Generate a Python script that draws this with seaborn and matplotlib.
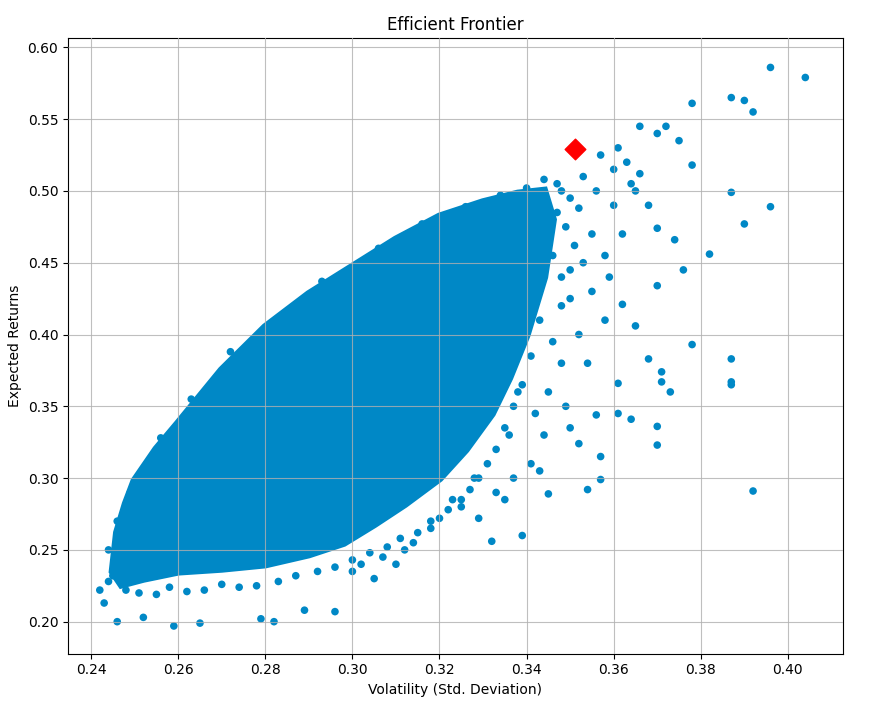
import matplotlib
matplotlib.use('Agg')
import matplotlib.pyplot as plt
import seaborn as sns
import pandas as pd
import numpy as np

# Dense cloud of simulated portfolios, outlined by its edges
cloud_x_upper = [0.245, 0.246, 0.248, 0.250, 0.255, 0.260, 0.270, 0.280, 0.290, 0.300, 0.310, 0.320, 0.330, 0.338, 0.344]
cloud_y_upper = [0.235, 0.262, 0.282, 0.298, 0.320, 0.338, 0.375, 0.405, 0.428, 0.447, 0.466, 0.482, 0.492, 0.498, 0.500]
cloud_x_lower = [0.346, 0.344, 0.340, 0.336, 0.332, 0.326, 0.320, 0.312, 0.305, 0.298, 0.290, 0.280, 0.270, 0.260, 0.252, 0.247]
cloud_y_lower = [0.480, 0.440, 0.400, 0.370, 0.345, 0.320, 0.300, 0.282, 0.268, 0.255, 0.247, 0.240, 0.237, 0.235, 0.230, 0.226]

# Sparse portfolios outside the dense cloud
vol = [0.404, 0.396, 0.390, 0.387, 0.392, 0.378, 0.396, 0.390, 0.387, 0.382, 0.387, 0.387, 0.387, 0.378, 0.392,
       0.376, 0.378, 0.375, 0.372, 0.370, 0.366, 0.374, 0.370, 0.371, 0.371, 0.373, 0.370, 0.370, 0.368, 0.364,
       0.365, 0.362, 0.361, 0.361, 0.357, 0.357, 0.354, 0.356, 0.352, 0.350, 0.345, 0.343, 0.339, 0.332, 0.335,
       0.329, 0.325, 0.320, 0.314, 0.310, 0.305, 0.300, 0.296, 0.289, 0.282, 0.279, 0.265, 0.259, 0.252, 0.246,
       0.243, 0.242, 0.244, 0.370, 0.368, 0.365, 0.360, 0.362, 0.358, 0.355, 0.358, 0.352, 0.348, 0.345, 0.342,
       0.348, 0.350, 0.355, 0.356, 0.360, 0.363, 0.366, 0.353, 0.357, 0.345, 0.342, 0.340, 0.338, 0.336, 0.361,
       0.364, 0.359, 0.354, 0.349, 0.346, 0.344, 0.341, 0.337, 0.333, 0.328, 0.323, 0.318, 0.312, 0.307, 0.302,
       0.348, 0.350, 0.352, 0.347, 0.349, 0.351, 0.353, 0.346, 0.348, 0.350, 0.343, 0.341, 0.339, 0.337, 0.335,
       0.333, 0.331, 0.329, 0.327, 0.325, 0.322, 0.318, 0.315, 0.311, 0.308, 0.304, 0.300, 0.296, 0.292, 0.287,
       0.283, 0.278, 0.274, 0.270, 0.266, 0.262, 0.258, 0.255, 0.251, 0.248, 0.245, 0.244, 0.246, 0.249, 0.256,
       0.263, 0.272, 0.286, 0.293, 0.306, 0.316, 0.326, 0.334, 0.340, 0.344, 0.347]
ret = [0.579, 0.586, 0.563, 0.565, 0.555, 0.561, 0.489, 0.477, 0.499, 0.456, 0.383, 0.367, 0.365, 0.393, 0.291,
       0.445, 0.518, 0.535, 0.545, 0.540, 0.545, 0.466, 0.434, 0.374, 0.367, 0.360, 0.336, 0.323, 0.383, 0.341,
       0.406, 0.421, 0.366, 0.345, 0.299, 0.315, 0.292, 0.344, 0.324, 0.335, 0.289, 0.305, 0.260, 0.256, 0.285,
       0.272, 0.280, 0.272, 0.255, 0.240, 0.230, 0.235, 0.207, 0.208, 0.200, 0.202, 0.199, 0.197, 0.203, 0.200,
       0.213, 0.222, 0.228, 0.474, 0.490, 0.500, 0.490, 0.470, 0.455, 0.430, 0.410, 0.400, 0.380, 0.360, 0.345,
       0.420, 0.445, 0.470, 0.500, 0.515, 0.520, 0.512, 0.510, 0.525, 0.470, 0.440, 0.400, 0.360, 0.330, 0.530,
       0.505, 0.440, 0.380, 0.350, 0.395, 0.330, 0.310, 0.300, 0.290, 0.300, 0.285, 0.265, 0.250, 0.245, 0.240,
       0.500, 0.495, 0.488, 0.485, 0.475, 0.462, 0.450, 0.455, 0.440, 0.425, 0.410, 0.385, 0.365, 0.350, 0.335,
       0.320, 0.310, 0.300, 0.292, 0.285, 0.278, 0.270, 0.262, 0.258, 0.252, 0.248, 0.243, 0.238, 0.235, 0.232,
       0.228, 0.225, 0.224, 0.226, 0.222, 0.221, 0.224, 0.219, 0.220, 0.222, 0.232, 0.250, 0.270, 0.290, 0.328,
       0.355, 0.388, 0.418, 0.437, 0.460, 0.477, 0.489, 0.497, 0.502, 0.508, 0.505]

# Portfolio with the best Sharpe ratio
best_vol = [0.351]
best_ret = [0.529]

point_color = '#0088c6'
df = pd.DataFrame({'Volatility': vol, 'Returns': ret})

fig, ax = plt.subplots(figsize=(8.89, 7.09), dpi=100)
ax.fill(cloud_x_upper + cloud_x_lower, cloud_y_upper + cloud_y_lower,
        color=point_color, linewidth=6, edgecolor=point_color, zorder=2)
sns.scatterplot(data=df, x='Volatility', y='Returns', color=point_color, s=30,
                edgecolor='none', ax=ax, zorder=2)
ax.scatter(best_vol, best_ret, color='red', marker='D', s=110, zorder=3)

ax.set_xlim(0.2347, 0.4126)
ax.set_ylim(0.1777, 0.6063)
ax.set_xticks(np.arange(0.24, 0.401, 0.02))
ax.set_yticks(np.arange(0.20, 0.601, 0.05))
ax.grid(True, color='#b0b0b0', linewidth=0.8, alpha=0.8, zorder=4)
ax.set_axisbelow(False)
ax.set_title('Efficient Frontier')
ax.set_xlabel('Volatility (Std. Deviation)')
ax.set_ylabel('Expected Returns')
plt.subplots_adjust(left=0.0765, right=0.948, top=0.946, bottom=0.078)
plt.savefig('out.png')
